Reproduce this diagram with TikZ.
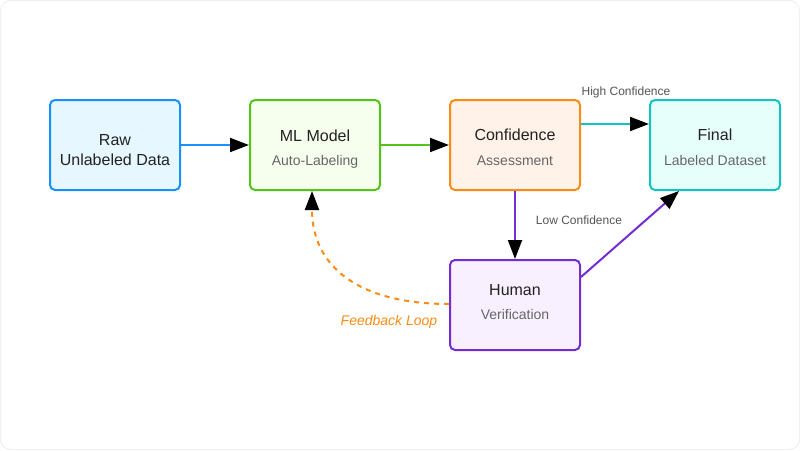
\documentclass[tikz,border=0pt]{standalone}
\usepackage{fontspec}
\setmainfont{Liberation Sans}
\usetikzlibrary{arrows.meta,calc}
\definecolor{bgline}{HTML}{F0F0F0}
\definecolor{txtmain}{HTML}{222222}
\definecolor{txtsub}{HTML}{666666}
\definecolor{txtlab}{HTML}{555555}
\definecolor{cblue}{HTML}{1890FF}\definecolor{fblue}{HTML}{E6F7FF}
\definecolor{cgreen}{HTML}{52C41A}\definecolor{fgreen}{HTML}{F6FFED}
\definecolor{corange}{HTML}{FA8C16}\definecolor{forange}{HTML}{FFF2E8}
\definecolor{ccyan}{HTML}{13C2C2}\definecolor{fcyan}{HTML}{E6FFFB}
\definecolor{cpurple}{HTML}{722ED1}\definecolor{fpurple}{HTML}{F9F0FF}
\tikzset{
  box/.style={draw, line width=2pt, rounded corners=5pt, minimum width=130pt, minimum height=90pt, inner sep=0pt},
  title/.style={anchor=base, text=txtmain, font=\fontsize{16}{19}\selectfont, inner sep=0pt},
  sub/.style={anchor=base, text=txtsub, font=\fontsize{14}{17}\selectfont, inner sep=0pt},
  elabel/.style={anchor=base, text=txtlab, font=\fontsize{12}{14}\selectfont, inner sep=0pt},
  conn/.style={line width=2pt, -{Triangle[length=19pt,width=14pt,color=black]}},
}
\begin{document}
\begin{tikzpicture}[x=1pt,y=-1pt]
\useasboundingbox (0,0) rectangle (800,450);
\draw[bgline, line width=1pt, rounded corners=10pt, fill=white] (0.5,0.5) rectangle (799.5,449.5);

\node[box, draw=cblue, fill=fblue] (raw) at (115,145) {};
\node[box, draw=cgreen, fill=fgreen] (ml) at (315,145) {};
\node[box, draw=corange, fill=forange] (conf) at (515,145) {};
\node[box, draw=ccyan, fill=fcyan] (final) at (715,145) {};
\node[box, draw=cpurple, fill=fpurple] (human) at (515,305) {};

\node[title] (rawt) at (115,145) {Raw};
\node[title] (raws) at (115,165) {Unlabeled Data};
\node[title] (mlt) at (315,141) {ML Model};
\node[sub] (mls) at (315,165) {Auto-Labeling};
\node[title] (conft) at (515,140) {Confidence};
\node[sub] (confs) at (515,165) {Assessment};
\node[title] (finalt) at (715,140) {Final};
\node[sub] (finals) at (715,165) {Labeled Dataset};
\node[title] (humant) at (515,295) {Human};
\node[sub] (humans) at (515,319) {Verification};

\draw[conn, cblue] (raw.east) -- (ml.west);
\draw[conn, cgreen] (ml.east) -- (conf.west);
\draw[conn, ccyan] ($(conf.north east)+(0,25)$) -- ($(final.north west)+(0,25)$);
\draw[conn, cpurple] (conf.south) -- (human.north);
\draw[conn, cpurple] ($(human.north east)+(0,18)$) -- ($(final.south west)+(30,0)$);
\draw[conn, corange, dashed, dash pattern=on 5pt off 5pt] ($(human.west)+(0,-1)$) .. controls (358,304) and (312,266) .. ($(ml.south)+(-3,0)$);

\node[elabel] (hc) at (626,95) {High Confidence};
\node[elabel] (lc) at (579,224) {Low Confidence};
\node[anchor=base, text=corange, font=\fontsize{14}{17}\selectfont\itshape, inner sep=0pt] (fb) at (389,325) {Feedback Loop};
\end{tikzpicture}
\end{document}
